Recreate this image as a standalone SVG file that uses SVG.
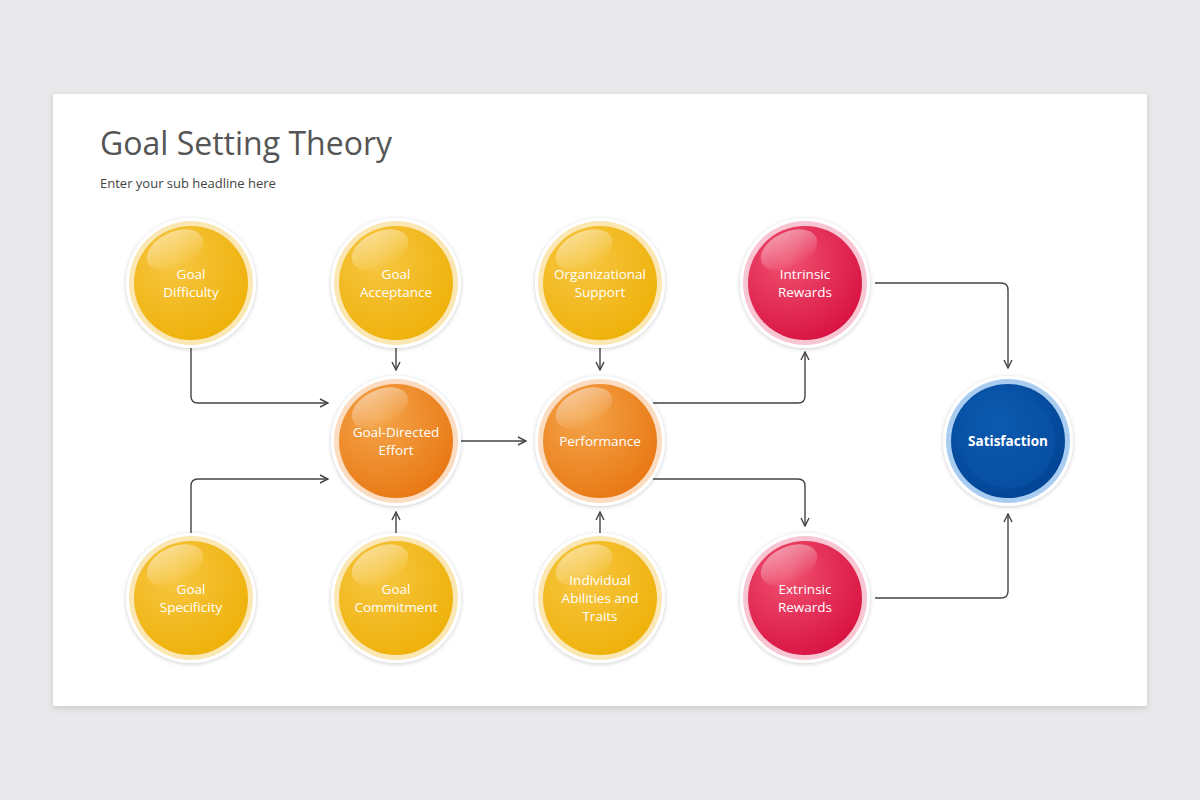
<svg xmlns="http://www.w3.org/2000/svg" width="1200" height="800" viewBox="0 0 1200 800">
<defs>
<radialGradient id="gy" cx="0.35" cy="0.3" r="0.8"><stop offset="0" stop-color="#f7c642"/><stop offset="1" stop-color="#eeb006"/></radialGradient>
<radialGradient id="go" cx="0.35" cy="0.3" r="0.8"><stop offset="0" stop-color="#f4a54a"/><stop offset="1" stop-color="#e87510"/></radialGradient>
<radialGradient id="gr" cx="0.35" cy="0.3" r="0.8"><stop offset="0" stop-color="#f0506f"/><stop offset="1" stop-color="#d70f40"/></radialGradient>
<radialGradient id="gb" cx="0.4" cy="0.35" r="0.8"><stop offset="0" stop-color="#0e5fb5"/><stop offset="1" stop-color="#003f8f"/></radialGradient>
<linearGradient id="hl" x1="0" y1="0" x2="0" y2="1"><stop offset="0" stop-color="#fff" stop-opacity="0.45"/><stop offset="1" stop-color="#fff" stop-opacity="0"/></linearGradient>
<filter id="sh" x="-5%" y="-5%" width="110%" height="115%"><feDropShadow dx="0" dy="2" stdDeviation="3" flood-opacity="0.15"/></filter>
<filter id="cs" x="-20%" y="-20%" width="140%" height="140%"><feDropShadow dx="0" dy="1" stdDeviation="2" flood-opacity="0.2"/></filter>
<marker id="ar" viewBox="0 0 10 10" refX="9" refY="5" markerWidth="10" markerHeight="10" markerUnits="userSpaceOnUse" orient="auto"><path d="M1,1 L9,5 L1,9" fill="none" stroke="#444" stroke-width="1.4"/></marker>
</defs>
<style>
.t{font-family:"Open Sans","Liberation Sans",sans-serif;font-size:13.5px;fill:#fff;text-anchor:middle}
.c{fill:none;stroke:#444;stroke-width:1.4;marker-end:url(#ar)}
.o{fill:#fff;filter:url(#cs)}
.ry{fill:#fbe7b4}.ro{fill:#fbdcc0}.rr{fill:#f8c6d2}.rb{fill:#a9cdf0}
</style>
<rect width="1200" height="800" fill="#e9e8ea"/>
<rect x="53" y="94" width="1094" height="612" fill="#fff" filter="url(#sh)"/>
<text x="100" y="155" font-family="Open Sans, Liberation Sans, sans-serif" font-size="32" fill="#555">Goal Setting Theory</text>
<text x="100" y="188" font-family="Open Sans, Liberation Sans, sans-serif" font-size="13" fill="#444">Enter your sub headline here</text>
<g id="connectors">
<path class="c" d="M191,348 V396 Q191,403 198,403 H328"/>
<path class="c" d="M191,533 V486 Q191,479 198,479 H328"/>
<path class="c" d="M396,348 V370"/>
<path class="c" d="M396,533 V512"/>
<path class="c" d="M461,441 H526"/>
<path class="c" d="M600,348 V370"/>
<path class="c" d="M600,533 V512"/>
<path class="c" d="M653,403 H798 Q805,403 805,396 V352"/>
<path class="c" d="M653,479 H798 Q805,479 805,486 V526"/>
<path class="c" d="M875,283 H1001 Q1008,283 1008,290 V368"/>
<path class="c" d="M875,598 H1001 Q1008,598 1008,591 V514"/>
</g>
<g id="goal-difficulty"><circle class="o" cx="191" cy="283" r="65"/><circle class="ry" cx="191" cy="283" r="62"/><circle fill="url(#gy)" cx="191" cy="283" r="57"/><ellipse cx="175" cy="250" rx="30" ry="18" fill="url(#hl)" transform="rotate(-25 175 250)"/><text class="t" x="191" y="279">Goal</text><text class="t" x="191" y="297">Difficulty</text></g>
<g id="goal-acceptance"><circle class="o" cx="396" cy="283" r="65"/><circle class="ry" cx="396" cy="283" r="62"/><circle fill="url(#gy)" cx="396" cy="283" r="57"/><ellipse cx="380" cy="250" rx="30" ry="18" fill="url(#hl)" transform="rotate(-25 380 250)"/><text class="t" x="396" y="279">Goal</text><text class="t" x="396" y="297">Acceptance</text></g>
<g id="organizational-support"><circle class="o" cx="600" cy="283" r="65"/><circle class="ry" cx="600" cy="283" r="62"/><circle fill="url(#gy)" cx="600" cy="283" r="57"/><ellipse cx="584" cy="250" rx="30" ry="18" fill="url(#hl)" transform="rotate(-25 584 250)"/><text class="t" x="600" y="279">Organizational</text><text class="t" x="600" y="297">Support</text></g>
<g id="intrinsic-rewards"><circle class="o" cx="805" cy="283" r="65"/><circle class="rr" cx="805" cy="283" r="62"/><circle fill="url(#gr)" cx="805" cy="283" r="57"/><ellipse cx="789" cy="250" rx="30" ry="18" fill="url(#hl)" transform="rotate(-25 789 250)"/><text class="t" x="805" y="279">Intrinsic</text><text class="t" x="805" y="297">Rewards</text></g>
<g id="goal-directed-effort"><circle class="o" cx="396" cy="441" r="65"/><circle class="ro" cx="396" cy="441" r="62"/><circle fill="url(#go)" cx="396" cy="441" r="57"/><ellipse cx="380" cy="408" rx="30" ry="18" fill="url(#hl)" transform="rotate(-25 380 408)"/><text class="t" x="396" y="437">Goal-Directed</text><text class="t" x="396" y="455">Effort</text></g>
<g id="performance"><circle class="o" cx="600" cy="441" r="65"/><circle class="ro" cx="600" cy="441" r="62"/><circle fill="url(#go)" cx="600" cy="441" r="57"/><ellipse cx="584" cy="408" rx="30" ry="18" fill="url(#hl)" transform="rotate(-25 584 408)"/><text class="t" x="600" y="446">Performance</text></g>
<g id="satisfaction"><circle class="o" cx="1008" cy="441" r="65"/><circle class="rb" cx="1008" cy="441" r="62"/><circle fill="url(#gb)" cx="1008" cy="441" r="57"/><circle fill="#0a55a8" cx="1008" cy="441" r="47" opacity="0.6"/><text class="t" x="1008" y="446" font-weight="bold">Satisfaction</text></g>
<g id="goal-specificity"><circle class="o" cx="191" cy="598" r="65"/><circle class="ry" cx="191" cy="598" r="62"/><circle fill="url(#gy)" cx="191" cy="598" r="57"/><ellipse cx="175" cy="565" rx="30" ry="18" fill="url(#hl)" transform="rotate(-25 175 565)"/><text class="t" x="191" y="594">Goal</text><text class="t" x="191" y="612">Specificity</text></g>
<g id="goal-commitment"><circle class="o" cx="396" cy="598" r="65"/><circle class="ry" cx="396" cy="598" r="62"/><circle fill="url(#gy)" cx="396" cy="598" r="57"/><ellipse cx="380" cy="565" rx="30" ry="18" fill="url(#hl)" transform="rotate(-25 380 565)"/><text class="t" x="396" y="594">Goal</text><text class="t" x="396" y="612">Commitment</text></g>
<g id="individual-abilities"><circle class="o" cx="600" cy="598" r="65"/><circle class="ry" cx="600" cy="598" r="62"/><circle fill="url(#gy)" cx="600" cy="598" r="57"/><ellipse cx="584" cy="565" rx="30" ry="18" fill="url(#hl)" transform="rotate(-25 584 565)"/><text class="t" x="600" y="585">Individual</text><text class="t" x="600" y="603">Abilities and</text><text class="t" x="600" y="621">Traits</text></g>
<g id="extrinsic-rewards"><circle class="o" cx="805" cy="598" r="65"/><circle class="rr" cx="805" cy="598" r="62"/><circle fill="url(#gr)" cx="805" cy="598" r="57"/><ellipse cx="789" cy="565" rx="30" ry="18" fill="url(#hl)" transform="rotate(-25 789 565)"/><text class="t" x="805" y="594">Extrinsic</text><text class="t" x="805" y="612">Rewards</text></g>
</svg>
